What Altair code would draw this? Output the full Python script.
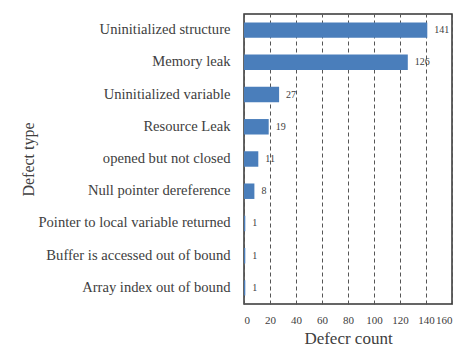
import altair as alt
import pandas as pd

categories = [
    "Uninitialized structure",
    "Memory leak",
    "Uninitialized variable",
    "Resource Leak",
    "opened but not closed",
    "Null pointer dereference",
    "Pointer to local variable returned",
    "Buffer is accessed out of bound",
    "Array index out of bound",
]
counts = [141, 126, 27, 19, 11, 8, 1, 1, 1]
x_ticks = [0, 20, 40, 60, 80, 100, 120, 140, 160]

df = pd.DataFrame({"type": categories, "count": counts})

FONT = "Liberation Serif"
TXT = "#404040"

x = alt.X(
    "count:Q",
    scale=alt.Scale(domain=[0, 160], nice=False),
    axis=alt.Axis(
        values=x_ticks, title="Defecr count", grid=True, labelOverlap=False,
        labelFontSize=11, labelPadding=10, titleFontSize=17, titlePadding=5,
        labelFont=FONT, titleFont=FONT, labelColor=TXT, titleColor=TXT,
        titleFontWeight="normal", ticks=False, domain=False,
        gridDash=[4, 3], gridColor="#555555", gridWidth=1,
    ),
)
y = alt.Y(
    "type:N",
    sort=categories,
    scale=alt.Scale(paddingInner=0.52, paddingOuter=0.26),
    axis=alt.Axis(
        title="Defect type", grid=False,
        labelFontSize=14.6, labelPadding=14, labelLimit=300,
        titleFontSize=16, titlePadding=8,
        labelFont=FONT, titleFont=FONT, labelColor=TXT, titleColor=TXT,
        titleFontWeight="normal", ticks=False, domain=False,
    ),
)

base = alt.Chart(df).encode(x=x, y=y)
bars = base.mark_bar(color="#4a7ebb")
labels = base.mark_text(
    align="left", baseline="middle", dx=7, font=FONT, fontSize=10, color=TXT
).encode(text="count:Q")

chart = (
    alt.layer(bars, labels)
    .properties(width=208, height=290, padding={"left": 12, "top": 6, "right": 14, "bottom": 5})
    .configure(background="white", font=FONT)
    .configure_view(stroke="#333333", strokeWidth=1.5)
)

chart.save("out.html", embed_options={"renderer": "svg", "actions": False})
